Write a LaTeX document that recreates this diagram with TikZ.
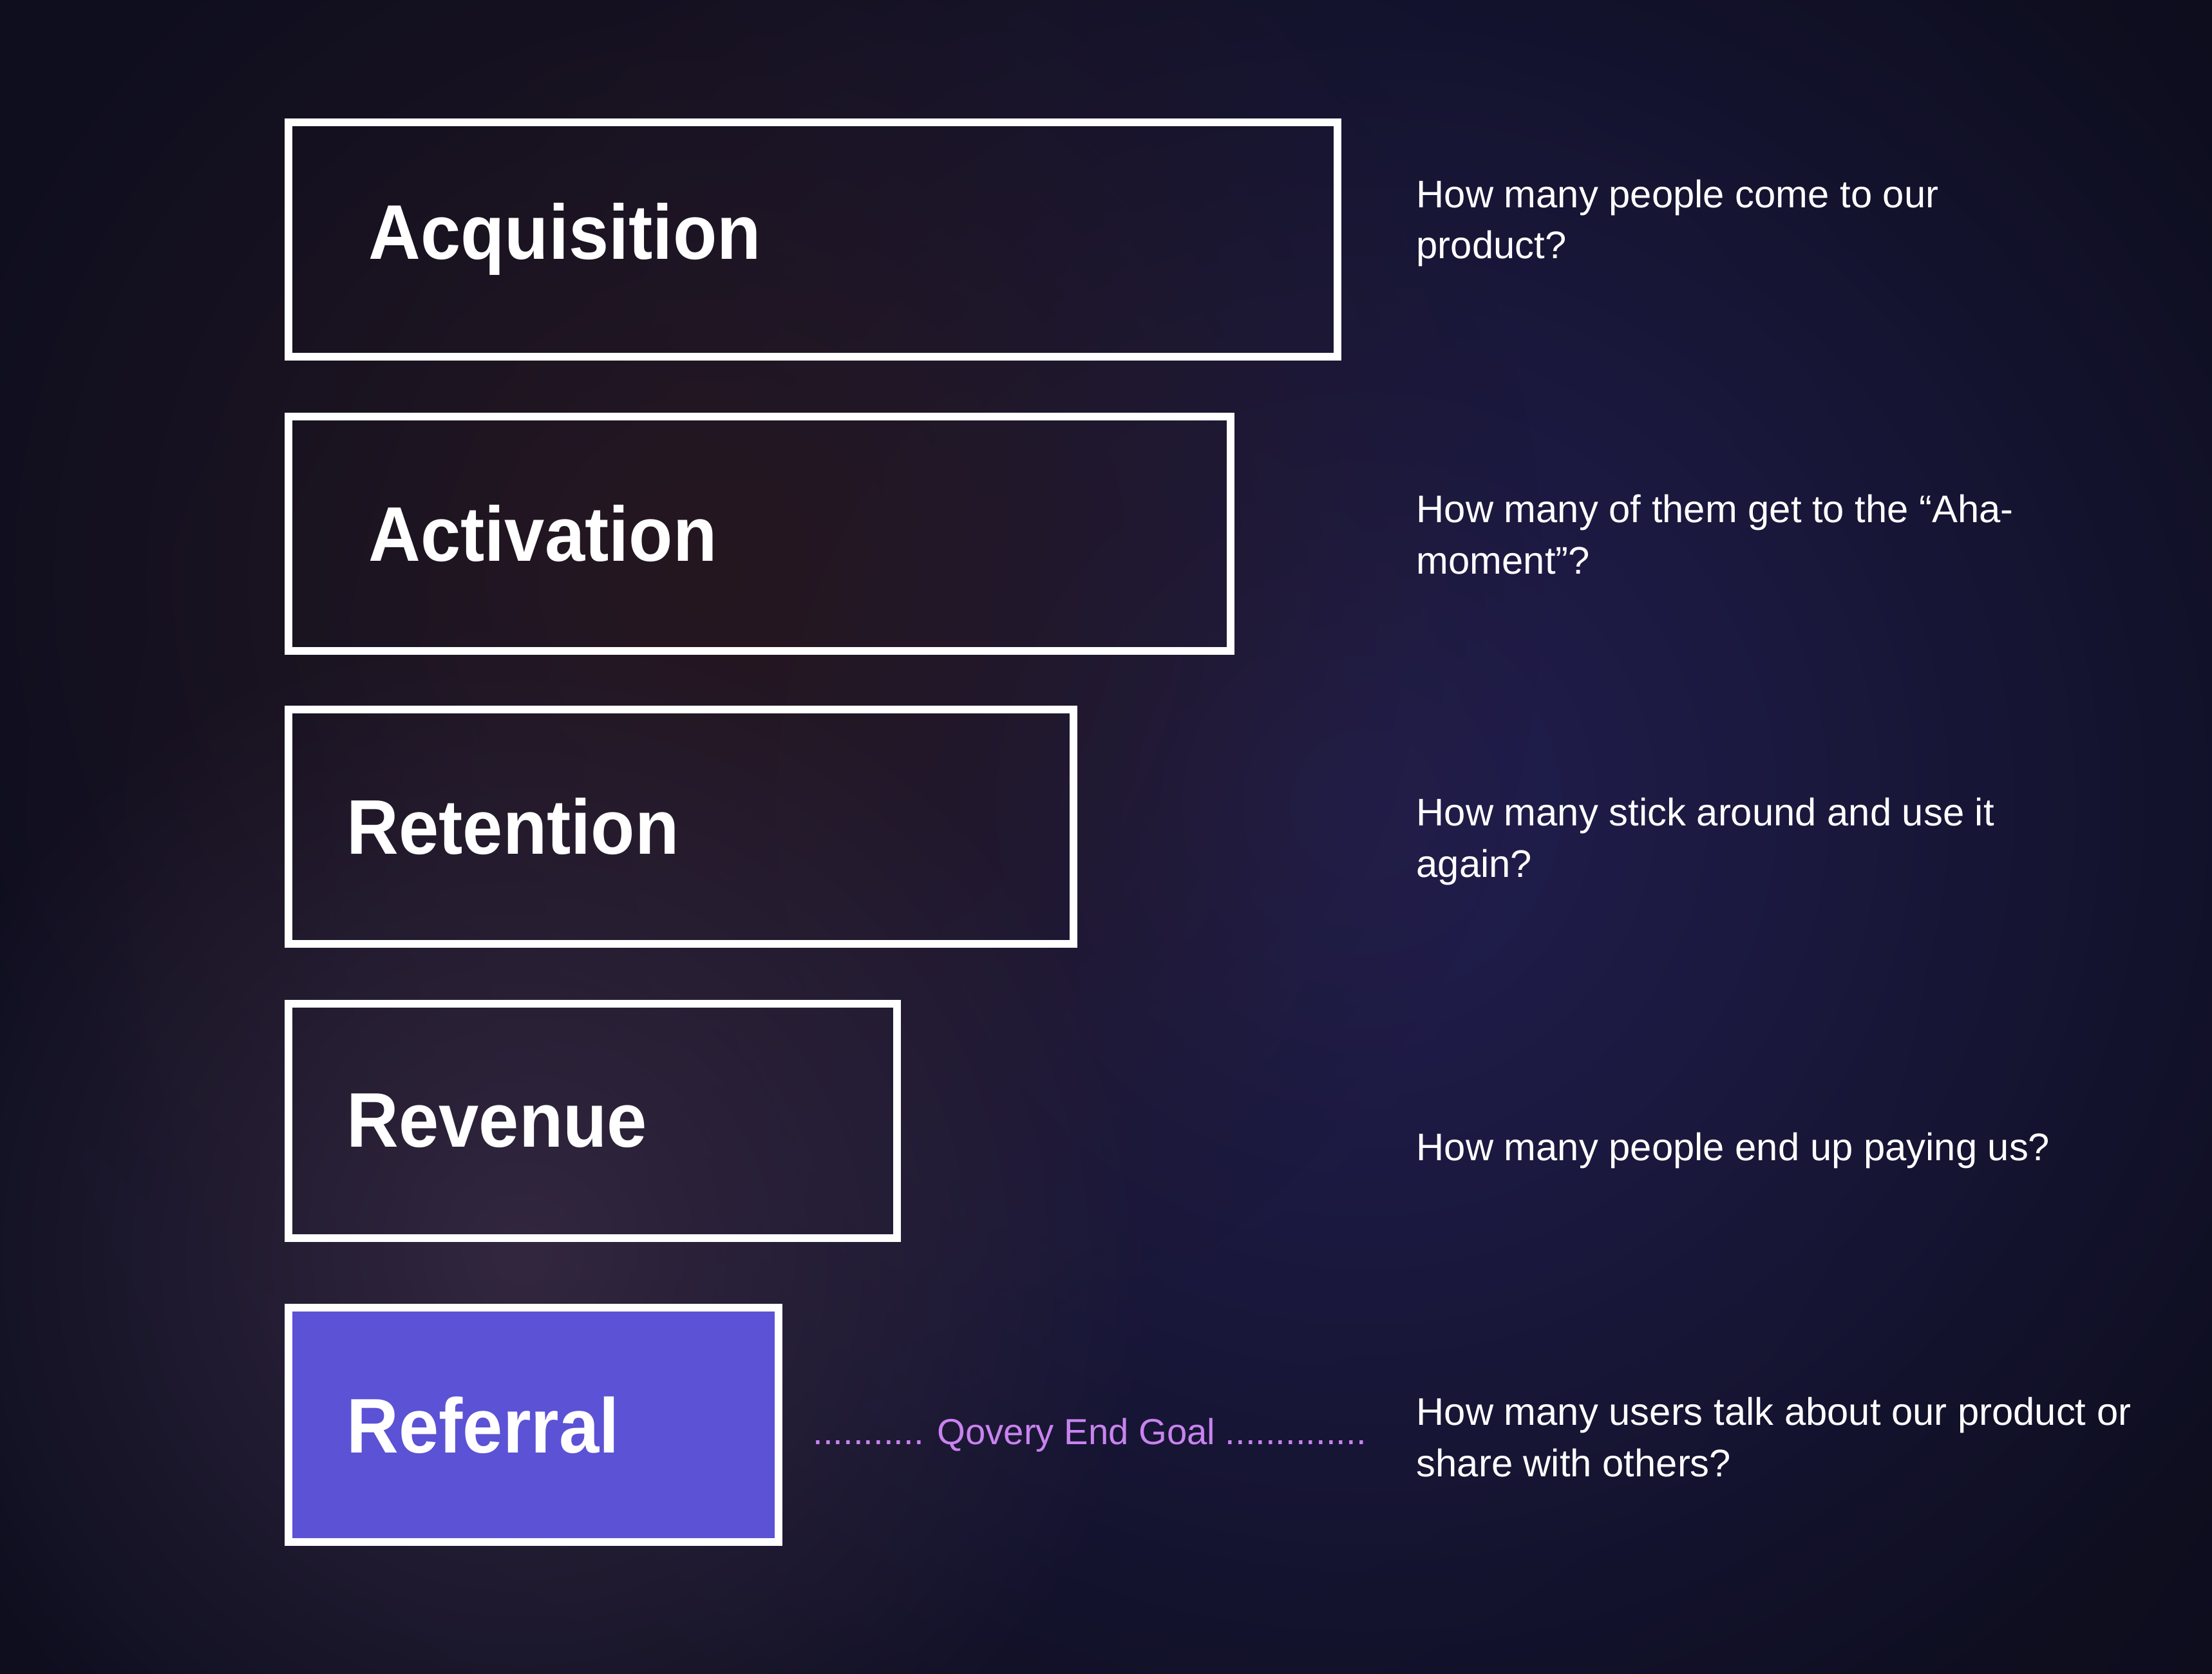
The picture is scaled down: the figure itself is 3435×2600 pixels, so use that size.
\documentclass[tikz,border=0pt]{standalone}
\usepackage{fontspec}
\setmainfont{Liberation Sans}
\newfontfamily\stagefont{Liberation Sans}[FakeStretch=0.93]
\usepackage{xcolor}
\usepackage{tikz}
\usetikzlibrary{positioning,calc,fadings}

\definecolor{bgnavy}{HTML}{0D0D1D}
\definecolor{glowwide}{HTML}{111126}
\definecolor{glowviolet}{HTML}{221F50}
\definecolor{glowwarm}{HTML}{25171F}
\definecolor{glowplum}{HTML}{32273F}
\definecolor{referralblue}{HTML}{5B52D6}
\definecolor{goalpink}{HTML}{C983F0}

\tikzfading[name=glowfade, inner color=transparent!0, outer color=transparent!100]

\tikzset{
  stage/.style={draw=white, line width=3.4pt, inner sep=0pt, outer sep=0pt,
    anchor=north west, minimum height=3.64cm},
  stagetext/.style={anchor=base west, inner sep=0pt, text=white,
    font=\stagefont\bfseries\fontsize{34.2}{40}\selectfont},
  question/.style={anchor=base west, inner sep=0pt, align=left, text=white,
    font=\fontsize{17}{22.5}\selectfont},
  goal/.style={anchor=base west, inner sep=0pt, text=goalpink,
    font=\fontsize{16}{20}\selectfont},
}

\begin{document}
\begin{tikzpicture}[x=0.01cm, y=-0.01cm]
  \useasboundingbox (0,0) rectangle (3435,2600);
  \fill[bgnavy] (0,0) rectangle (3435,2600);

  % background glows
  \fill[glowwide, path fading=glowfade] (1600,1300) circle (28cm);
  \fill[glowviolet, path fading=glowfade] (2120,1250) circle (17cm);
  \fill[glowwarm, path fading=glowfade] (1100,900) circle (13cm);
  \fill[glowplum, path fading=glowfade] (810,1950) circle (10cm);

  % stages
  \node[stage, minimum width=16.28cm] (acq) at (448,190) {};
  \node[stage, minimum width=14.62cm] (act) at (448,647) {};
  \node[stage, minimum width=12.18cm] (ret) at (448,1102) {};
  \node[stage, minimum width=9.44cm] (rev) at (448,1559) {};
  \node[stage, fill=referralblue, minimum width=7.61cm] (ref) at (448,2031) {};

  \node[stagetext] (acqt) at ($(acq.west)+(124,30)$) {Acquisition};
  \node[stagetext] (actt) at ($(act.west)+(124,42)$) {Activation};
  \node[stagetext] (rett) at ($(ret.west)+(90,42)$) {Retention};
  \node[stagetext] (revt) at ($(rev.west)+(90,40)$) {Revenue};
  \node[stagetext] (reft) at ($(ref.west)+(90,43)$) {Referral};

  \node[goal] (endgoal) at (1262,2243) {........... Qovery End Goal ..............};

  % questions
  \node[question] (qacq) at (2199,402) {How many people come to our\\product?};
  \node[question] (qact) at (2199,891) {How many of them get to the “Aha-\\moment”?};
  \node[question] (qret) at (2199,1362) {How many stick around and use it\\again?};
  \node[question] (qrev) at (2199,1802) {How many people end up paying us?};
  \node[question] (qref) at (2199,2293) {How many users talk about our product or\\share with others?};
\end{tikzpicture}
\end{document}
